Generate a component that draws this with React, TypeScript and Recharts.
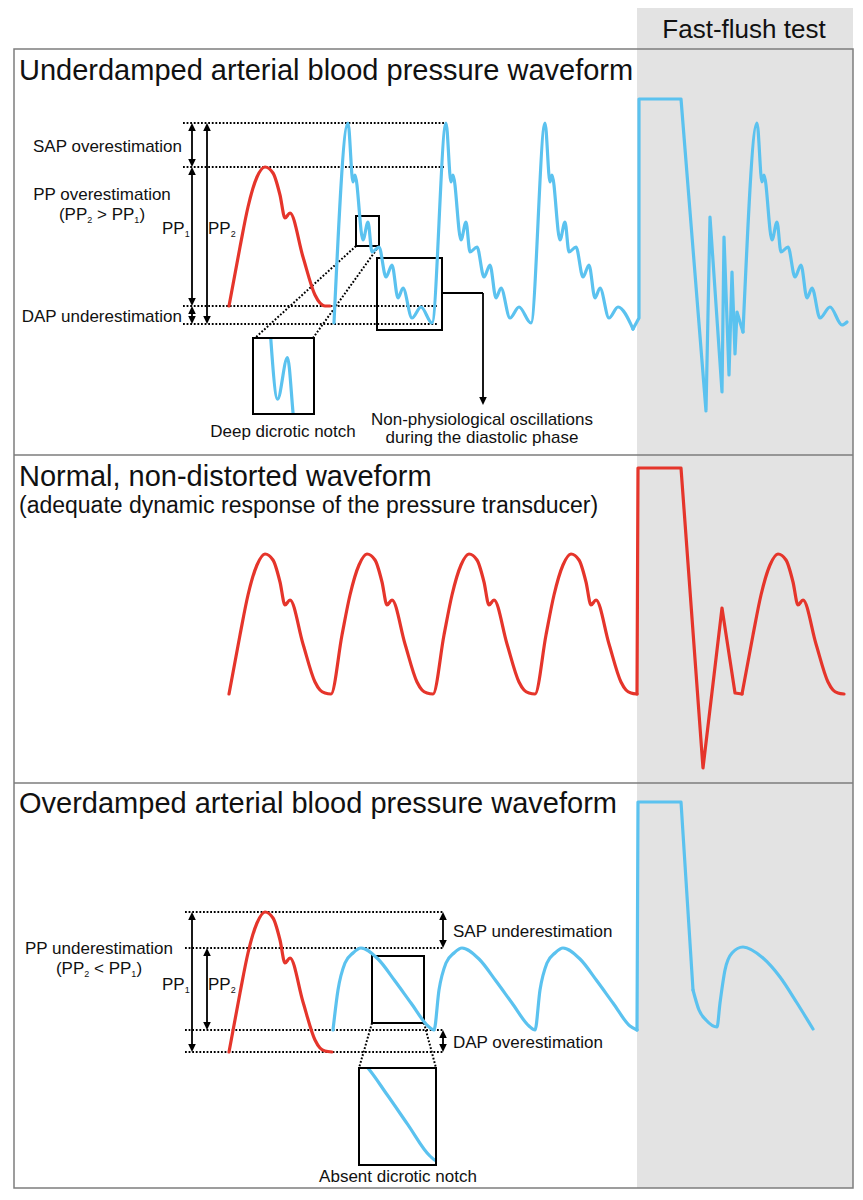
import React from 'react'
import { LineChart, Line, XAxis, YAxis, ReferenceLine, ReferenceArea } from 'recharts'

const RED = '#e5352b'
const BLUE = '#5bc2ef'
const FONT = '"Liberation Sans", Arial, sans-serif'

// x = time (px-like units), p = pressure height above the panel floor

// panel 1: underdamped
const underRef = [[229,149],[240,208],[248,248],[257,278],[265,288],[273,282],[280,260],[285,237],[290,242],[303,198],[315,160],[320,152],[325,149],[330,149]]
const underBeats = [
  [334,132],[348,332],[353,273],[355,280],[363,215],[368,233],[372,203],[379,208],[386,178],[392,190],[398,157],[403,167],[412,137],[421,148],
  [432,132],[446,332],[451,273],[453,280],[461,215],[466,233],[470,203],[477,208],[484,178],[490,190],[496,157],[501,167],[510,137],[519,148],
  [531,132],[545,332],[550,273],[552,280],[560,215],[565,233],[569,203],[576,208],[583,178],[589,190],[595,157],[600,167],[609,137],[618,148],[633,126],
]
const underFlush = [[633,126],[639,137],[639,356],[681,356],[706,44],[710,238],[722,63],[724,218],[729,80],[732,183],[735,101],[737,143],[743,123]]
const underAfter = [[743,123],[757,332],[762,273],[764,280],[772,215],[777,233],[781,203],[788,208],[795,178],[801,190],[807,157],[812,167],[820,137],[830,148],[842,130],[847,133]]
const underLevels = [332, 288, 149, 131]

// panel 2: normal
const normalBeats = [
  [229,89],[240,148],[248,188],[257,218],[265,229],[273,223],[280,201],[285,178],[290,183],[303,139],[315,101],[320,93],[325,90],
  [331,89],[342,148],[350,188],[359,218],[367,229],[375,223],[382,201],[387,178],[392,183],[405,139],[417,101],[422,93],[427,90],
  [433,89],[444,148],[452,188],[461,218],[469,229],[477,223],[484,201],[489,178],[494,183],[507,139],[519,101],[524,93],[529,90],
  [535,89],[546,148],[554,188],[563,218],[571,229],[579,223],[586,201],[591,178],[596,183],[609,139],[621,101],[626,93],[631,90],[637,89],
]
const normalFlush = [[637,89],[638,315],[681,315],[703,15],[722,175],[735,90],[742,89]]
const normalAfter = [[742,89],[753,148],[761,188],[770,218],[778,229],[786,223],[793,201],[798,178],[803,183],[816,139],[828,101],[833,93],[838,90],[844,89]]

// panel 3: overdamped
const overRef = [[229,136],[240,195],[248,235],[257,265],[265,276],[273,270],[280,248],[285,225],[290,230],[303,186],[315,148],[320,140],[325,137],[332,136]]
const overBeats = [
  [333,158],[338,198],[345,225],[353,235],[361,240],[378,229],[395,207],[411,185],[428,162],
  [434,158],[439,198],[446,225],[454,235],[462,240],[479,229],[496,207],[512,185],[529,162],
  [535,158],[540,198],[547,225],[555,235],[563,240],[580,229],[597,207],[613,185],[630,162],[637,158],
]
const overFlush = [[637,158],[638,386],[681,386],[693,198]]
const overAfter = [[693,198],[699,178],[706,168],[717,161],[720,185],[725,218],[732,235],[743,241],[763,230],[780,211],[797,185],[813,159]]
const overLevels = [276, 240, 158, 136]

const pts = (a: number[][]) => a.map(([t, p]) => ({ t, p }))

const wave = (key: string, data: number[][], color: string, type: 'monotone' | 'linear') => (
  <Line key={key} data={pts(data)} dataKey="p" type={type} stroke={color} strokeWidth={3.2}
    strokeLinejoin="round" strokeLinecap="round" dot={false} activeDot={false} isAnimationActive={false} />
)

const arrowShape = (both: boolean) => (props: any) => {
  const { x1, y1, x2, y2 } = props
  const dx = x2 - x1, dy = y2 - y1
  const len = Math.hypot(dx, dy) || 1
  const ux = dx / len, uy = dy / len
  const L = 8, W = 3.8
  const head = (x: number, y: number, vx: number, vy: number) =>
    `${x},${y} ${x - vx * L - vy * W},${y - vy * L + vx * W} ${x - vx * L + vy * W},${y - vy * L - vx * W}`
  return (
    <g>
      <line x1={both ? x1 + ux * 5 : x1} y1={both ? y1 + uy * 5 : y1} x2={x2 - ux * 5} y2={y2 - uy * 5} stroke="#000" strokeWidth={1.8} />
      {both && <polygon points={head(x1, y1, -ux, -uy)} fill="#000" />}
      <polygon points={head(x2, y2, ux, uy)} fill="#000" />
    </g>
  )
}

const dotted = (key: string, a: [number, number], b: [number, number]) => (
  <ReferenceLine key={key} segment={[{ x: a[0], y: a[1] }, { x: b[0], y: b[1] }]} stroke="#000" strokeWidth={2} strokeDasharray="1.8 1.8" />
)
const arrow = (key: string, a: [number, number], b: [number, number], both = true) => (
  <ReferenceLine key={key} segment={[{ x: a[0], y: a[1] }, { x: b[0], y: b[1] }]} shape={arrowShape(both)} />
)
const box = (key: string, x1: number, x2: number, y1: number, y2: number) => (
  <ReferenceArea key={key} x1={x1} x2={x2} y1={y1} y2={y2} fill="none" fillOpacity={0} stroke="#000" strokeWidth={2} />
)

const axes = (h: number, xd: [number, number] = [0, 863]) => [
  <XAxis key="x" type="number" dataKey="t" domain={xd} hide allowDataOverflow />,
  <YAxis key="y" type="number" domain={[0, h]} hide allowDataOverflow />,
]

const M = { top: 0, right: 0, bottom: 0, left: 0 }
const abs = (left: number, top: number) => ({ position: 'absolute' as const, left, top })

function Sub({ children }: { children: React.ReactNode }) {
  return <tspan fontSize={9} dy={3}>{children}</tspan>
}

export default function App() {
  const [u0, u1, u2, u3] = underLevels
  const [o0, o1, o2, o3] = overLevels
  return (
    <div style={{ position: 'absolute', left: 0, top: 0, width: 863, height: 1200, background: '#fff', fontFamily: FONT }}>
      <svg width={863} height={1200} style={abs(0, 0)} fontFamily={FONT} fill="#111">
        <rect x={637} y={8} width={216} height={1180} fill="#e3e3e3" />
        <rect x={14} y={49} width={839} height={1139} fill="none" stroke="#7d7d7d" strokeWidth={1.5} />
        <line x1={14} x2={853} y1={455} y2={455} stroke="#7d7d7d" strokeWidth={1.5} />
        <line x1={14} x2={853} y1={783} y2={783} stroke="#7d7d7d" strokeWidth={1.5} />

        <text x={744} y={38} fontSize={26} textAnchor="middle">Fast-flush test</text>

        <text x={19} y={80} fontSize={29}>Underdamped arterial blood pressure waveform</text>
        <text x={182} y={152} fontSize={17} textAnchor="end">SAP overestimation</text>
        <text x={102} y={200} fontSize={17} textAnchor="middle">PP overestimation</text>
        <text x={102} y={220} fontSize={17} textAnchor="middle">(PP<Sub>2</Sub><tspan dy={-3}> &gt; PP</tspan><Sub>1</Sub><tspan dy={-3}>)</tspan></text>
        <text x={162} y={234} fontSize={17}>PP<Sub>1</Sub></text>
        <text x={208} y={234} fontSize={17}>PP<Sub>2</Sub></text>
        <text x={182} y={322} fontSize={17} textAnchor="end">DAP underestimation</text>
        <text x={283} y={437} fontSize={17} textAnchor="middle">Deep dicrotic notch</text>
        <text x={482} y={425} fontSize={17} textAnchor="middle">Non-physiological oscillations</text>
        <text x={482} y={443} fontSize={17} textAnchor="middle">during the diastolic phase</text>

        <text x={19} y={486} fontSize={29}>Normal, non-distorted waveform</text>
        <text x={19} y={513} fontSize={23}>(adequate dynamic response of the pressure transducer)</text>

        <text x={19} y={813} fontSize={29}>Overdamped arterial blood pressure waveform</text>
        <text x={99} y={954} fontSize={17} textAnchor="middle">PP underestimation</text>
        <text x={99} y={974} fontSize={17} textAnchor="middle">(PP<Sub>2</Sub><tspan dy={-3}> &lt; PP</tspan><Sub>1</Sub><tspan dy={-3}>)</tspan></text>
        <text x={162} y={990} fontSize={17}>PP<Sub>1</Sub></text>
        <text x={208} y={990} fontSize={17}>PP<Sub>2</Sub></text>
        <text x={453} y={937} fontSize={17}>SAP underestimation</text>
        <text x={453} y={1048} fontSize={17}>DAP overestimation</text>
        <text x={398} y={1182} fontSize={17} textAnchor="middle">Absent dicrotic notch</text>
      </svg>

      {/* panel 1 */}
      <div style={abs(0, 49)}>
        <LineChart width={863} height={406} margin={M}>
          {axes(406)}
          {dotted('d0', [183, u0], [444, u0])}
          {dotted('d1', [183, u1], [444, u1])}
          {dotted('d2', [183, u2], [438, u2])}
          {dotted('d3', [183, u3], [438, u3])}
          {arrow('a0', [192, u0], [192, u1])}
          {arrow('a1', [192, u1], [192, u2])}
          {arrow('a2', [192, u2], [192, u3])}
          {arrow('a3', [207, u0], [207, u3])}
          {box('b0', 356, 379, 209, 239)}
          {box('b1', 377, 442, 125, 197)}
          {box('b2', 253, 314, 41, 117)}
          {dotted('c0', [356, 209], [255, 117])}
          {dotted('c1', [379, 209], [313, 117])}
          <ReferenceLine segment={[{ x: 442, y: 162 }, { x: 483, y: 162 }]} stroke="#000" strokeWidth={1.8} />
          {arrow('a4', [483, 162], [483, 50], false)}
          {wave('r', underRef, RED, 'monotone')}
          {wave('b', underBeats, BLUE, 'monotone')}
          {wave('f', underFlush, BLUE, 'linear')}
          {wave('a', underAfter, BLUE, 'monotone')}
        </LineChart>
      </div>

      {/* panel 2 */}
      <div style={abs(0, 455)}>
        <LineChart width={863} height={328} margin={M}>
          {axes(328)}
          {wave('b', normalBeats, RED, 'monotone')}
          {wave('f', normalFlush, RED, 'linear')}
          {wave('a', normalAfter, RED, 'monotone')}
        </LineChart>
      </div>

      {/* panel 3 */}
      <div style={abs(0, 783)}>
        <LineChart width={863} height={405} margin={M}>
          {axes(405)}
          {dotted('d0', [185, o0], [444, o0])}
          {dotted('d1', [185, o1], [444, o1])}
          {dotted('d2', [185, o2], [444, o2])}
          {dotted('d3', [185, o3], [444, o3])}
          {arrow('a0', [192, o0], [192, o3])}
          {arrow('a1', [207, o1], [207, o2])}
          {arrow('a2', [443, o0], [443, o1])}
          {arrow('a3', [443, o2], [443, o3])}
          {box('b0', 372, 424, 165, 232)}
          {box('b1', 359, 436, 23, 120)}
          {dotted('c0', [372, 165], [359, 120])}
          {dotted('c1', [424, 165], [436, 120])}
          {wave('r', overRef, RED, 'monotone')}
          {wave('b', overBeats, BLUE, 'monotone')}
          {wave('f', overFlush, BLUE, 'linear')}
          {wave('a', overAfter, BLUE, 'monotone')}
        </LineChart>
      </div>

      {/* magnified insets */}
      <div style={abs(254, 339)}>
        <LineChart width={59} height={74} margin={M}>
          <XAxis type="number" dataKey="t" domain={[351, 381]} hide allowDataOverflow />
          <YAxis type="number" domain={[209, 241]} hide allowDataOverflow />
          {wave('i', underBeats, BLUE, 'monotone')}
        </LineChart>
      </div>
      <div style={abs(360, 1069)}>
        <LineChart width={75} height={95} margin={M}>
          <XAxis type="number" dataKey="t" domain={[374, 432]} hide allowDataOverflow />
          <YAxis type="number" domain={[156, 226]} hide allowDataOverflow />
          {wave('i', overBeats, BLUE, 'monotone')}
        </LineChart>
      </div>
    </div>
  )
}
